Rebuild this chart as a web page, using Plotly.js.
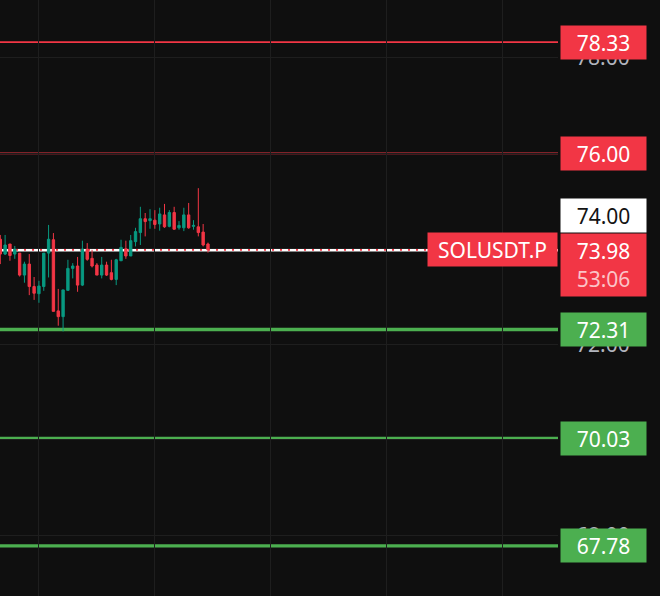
<!DOCTYPE html>
<html>
<head>
<meta charset="utf-8">
<script src="https://cdn.plot.ly/plotly-3.0.1.min.js"></script>
<style>
  html, body { margin: 0; padding: 0; background: #0f0f0f; }
  #chart { width: 660px; height: 596px; }
</style>
</head>
<body>
<div id="chart"></div>
<script>
// ---- data ----
var candleIdx = [];
for (var i = 0; i < 44; i++) candleIdx.push(i);

var openVals  = [74.20, 73.89, 74.10, 73.89, 73.91, 73.45, 73.68, 73.21, 73.06, 73.21,
                 73.91, 74.19, 72.70, 72.58, 73.13, 73.59, 73.64, 73.24, 73.99, 73.80,
                 73.66, 73.45, 73.66, 73.50, 73.36, 73.75, 74.00, 73.85, 74.15, 74.34,
                 74.63, 74.59, 74.60, 74.52, 74.71, 74.47, 74.76, 74.44, 74.44, 74.71,
                 74.47, 74.46, 74.35, 74.10];
var highVals  = [74.29, 74.29, 74.10, 74.06, 73.91, 73.73, 73.89, 73.41, 73.33, 73.91,
                 74.50, 74.33, 73.16, 73.14, 73.77, 73.70, 73.83, 74.17, 74.12, 73.98,
                 73.70, 73.83, 73.73, 73.77, 73.79, 74.19, 74.17, 74.29, 74.44, 74.88,
                 74.75, 74.83, 74.81, 74.86, 74.94, 74.81, 74.88, 74.58, 74.86, 74.96,
                 74.60, 75.27, 74.52, 74.13];
var lowVals   = [73.68, 73.87, 73.75, 73.79, 73.42, 73.29, 73.03, 72.93, 72.87, 73.12,
                 73.40, 72.69, 72.39, 72.27, 73.13, 73.38, 73.10, 73.22, 73.75, 73.61,
                 73.45, 73.38, 73.43, 73.34, 73.24, 73.75, 73.79, 73.85, 74.05, 74.08,
                 74.26, 74.42, 74.42, 74.38, 74.44, 74.45, 74.40, 74.40, 74.37, 74.42,
                 74.40, 74.26, 74.05, 73.92];
var closeVals = [73.89, 74.08, 73.86, 73.99, 73.45, 73.68, 73.21, 73.07, 73.22, 73.91,
                 74.20, 72.69, 72.58, 73.14, 73.59, 73.64, 73.24, 73.99, 73.78, 73.64,
                 73.45, 73.66, 73.45, 73.36, 73.77, 74.03, 73.85, 74.17, 74.36, 74.63,
                 74.57, 74.63, 74.51, 74.73, 74.46, 74.76, 74.41, 74.49, 74.71, 74.44,
                 74.49, 74.34, 74.08, 73.98];

var resistanceLevels = [78.33, 76.00];
var supportLevels    = [72.31, 70.03, 67.78];
var lastPrice    = 73.98;
var symbolName   = "SOLUSDT.P";
var countdown    = "53:06";
var hoverPrice   = "74.00";
var yTickVals    = [68, 70, 72, 74, 76, 78];
var xGridVals    = [8, 32, 56, 80, 104];

// ---- styling ----
var RED = "#f23645", GREEN_C = "#089981", GREEN_L = "#4caf50", BG = "#0f0f0f";
var FONT = "Noto Sans, DejaVu Sans, sans-serif";
var plotW = 558;

var trace = {
  type: "candlestick",
  x: candleIdx, open: openVals, high: highVals, low: lowVals, close: closeVals,
  increasing: { line: { color: GREEN_C, width: 1 }, fillcolor: GREEN_C },
  decreasing: { line: { color: RED, width: 1 }, fillcolor: RED },
  whiskerwidth: 0,
  hoverinfo: "skip",
  showlegend: false
};

var shapes = [];
resistanceLevels.forEach(function (p) {
  shapes.push({ type: "line", xref: "paper", yref: "y", x0: 0, x1: 1, y0: p, y1: p,
    layer: "between", line: { color: RED, width: 1.7 } });
});
supportLevels.forEach(function (p) {
  shapes.push({ type: "line", xref: "paper", yref: "y", x0: 0, x1: 1, y0: p, y1: p,
    layer: "between", line: { color: GREEN_L, width: 3.3 } });
});
shapes.push({ type: "line", xref: "paper", yref: "y", x0: 0, x1: 1, y0: lastPrice, y1: lastPrice,
  layer: "between", line: { color: "#ffffff", width: 3.3 } });
shapes.push({ type: "line", xref: "paper", yref: "y", x0: 0, x1: 1, y0: lastPrice, y1: lastPrice,
  layer: "between", line: { color: RED, width: 1.8, dash: "2px,6px" } });

var labelX = 560 / plotW;
var annotations = [];
function levelLabel(p, color) {
  annotations.push({
    xref: "paper", yref: "y", x: labelX, y: p, xanchor: "left", yanchor: "middle",
    text: p.toFixed(2), showarrow: false, bgcolor: color, borderpad: 2,
    width: 81, height: 29, align: "center",
    font: { family: FONT, size: 21, color: "#ffffff" }
  });
}
resistanceLevels.forEach(function (p) { levelLabel(p, RED); });
supportLevels.forEach(function (p) { levelLabel(p, GREEN_L); });

// last price + countdown
annotations.push({
  xref: "paper", yref: "y", x: labelX, y: lastPrice, xanchor: "left", yanchor: "top", yshift: 17,
  text: lastPrice.toFixed(2) + "<br><span style='color:#fbc3c7'>" + countdown + "</span>",
  showarrow: false, bgcolor: RED, borderpad: 2, width: 81, height: 58, align: "center",
  font: { family: FONT, size: 21, color: "#ffffff" }
});
// hover price box
annotations.push({
  xref: "paper", yref: "y", x: labelX, y: lastPrice, xanchor: "left", yanchor: "bottom", yshift: 17,
  text: hoverPrice, showarrow: false, bgcolor: "#ffffff", borderpad: 2, width: 81, height: 29,
  align: "center", font: { family: FONT, size: 21, color: "#131313" }
});
// symbol label
annotations.push({
  xref: "paper", yref: "y", x: 557.6 / plotW, y: lastPrice, xanchor: "right", yanchor: "middle",
  text: symbolName, showarrow: false, bgcolor: RED, borderpad: 2, width: 125, height: 29,
  align: "center", font: { family: FONT, size: 21, color: "#ffffff" }
});

var layout = {
  width: 660, height: 596,
  margin: { l: 0, r: 102, t: 0, b: 0, pad: 0 },
  paper_bgcolor: BG, plot_bgcolor: BG,
  showlegend: false,
  xaxis: {
    type: "linear", range: [-0.06, 115.47], rangeslider: { visible: false },
    tickmode: "array", tickvals: xGridVals, showticklabels: false, ticks: "",
    showgrid: true, gridcolor: "#1e1e1e", gridwidth: 1, zeroline: false, showline: false,
    fixedrange: true
  },
  yaxis: {
    side: "right", range: [66.73, 79.21],
    tickmode: "array", tickvals: yTickVals, tickformat: ".2f", ticks: "",
    ticklabelstandoff: 17,
    tickfont: { family: FONT, size: 21, color: "#b2b5be" },
    showgrid: true, gridcolor: "#1e1e1e", gridwidth: 1, zeroline: false, showline: false,
    fixedrange: true
  },
  shapes: shapes,
  annotations: annotations
};

Plotly.newPlot("chart", [trace], layout, { displayModeBar: false, staticPlot: true });
</script>
</body>
</html>
